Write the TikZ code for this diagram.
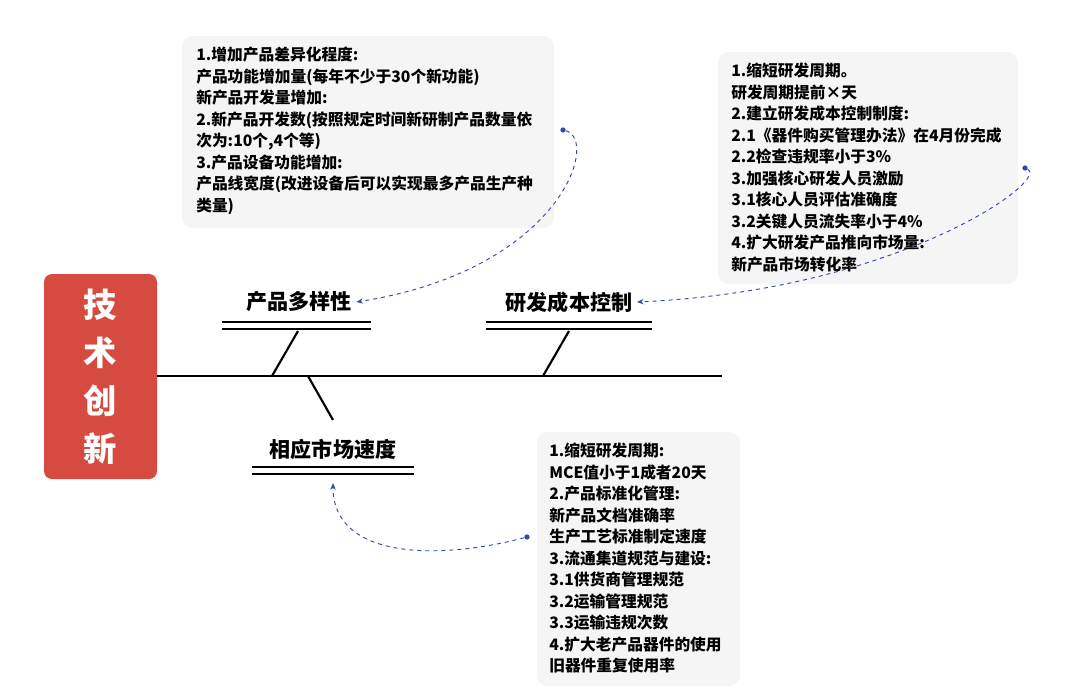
\documentclass[tikz,border=0pt]{standalone}
\usepackage{fontspec}
\setmainfont{Noto Sans CJK SC}
\usetikzlibrary{arrows.meta}
\definecolor{redbox}{HTML}{D64B3F}
\definecolor{boxgray}{HTML}{F5F5F5}
\definecolor{linkblue}{HTML}{3548B0}
\tikzset{
  note/.style={align=left,anchor=north west,
    font=\fontsize{11.8pt}{16.1pt}\selectfont\bfseries,inner sep=0pt},
  cat/.style={font=\fontsize{15.8pt}{18pt}\selectfont\bfseries},
  bone/.style={line width=1.6pt},
  link/.style={linkblue,dashed,line width=0.7pt,-{Stealth[length=5pt,width=4pt]}},
  dot/.style={circle,fill=linkblue,inner sep=1.4pt}
}
\begin{document}
\begin{tikzpicture}[x=0.75pt,y=-0.75pt]
\useasboundingbox (0,0) rectangle (1080,689);
% head
\node[fill=redbox,rounded corners=6pt,minimum width=113*0.75pt,minimum height=205*0.75pt,
  text=white,font=\fontsize{25pt}{36pt}\selectfont\bfseries,align=center] (head) at (100.5,376.5) {技\\术\\创\\新};
% spine
\coordinate (sp) at (157,376);
\coordinate (se) at (722,376);
\draw[bone] (sp) -- (se);
% categories
\node[cat] (c1) at (299,302) {产品多样性};
\node[cat] (c2) at (569,302) {研发成本控制};
\node[cat] (c3) at (333,449) {相应市场速度};
\draw[bone] (222,322) -- (371,322) (222,329) -- (371,329);
\draw[bone] (486,322) -- (652,322) (486,329) -- (652,329);
\draw[bone] (252,467) -- (414,467) (252,474) -- (414,474);
\draw[bone] (298,331) -- (272,376);
\draw[bone] (569,331) -- (543,376);
\draw[bone] (308,376) -- (333,420);
% notes
\fill[boxgray,rounded corners=8pt] (182,36) rectangle (554,228);
\node[note] (n1) at (196,47) {1.增加产品差异化程度:\\产品功能增加量(每年不少于30个新功能)\\新产品开发量增加:\\2.新产品开发数(按照规定时间新研制产品数量依\\次为:10个,4个等)\\3.产品设备功能增加:\\产品线宽度(改进设备后可以实现最多产品生产种\\类量)};
\fill[boxgray,rounded corners=8pt] (718,52) rectangle (1018,284);
\node[note] (n2) at (731,63) {1.缩短研发周期。\\研发周期提前×天\\2.建立研发成本控制制度:\\2.1《器件购买管理办法》在4月份完成\\2.2检查违规率小于3\%\\3.加强核心研发人员激励\\3.1核心人员评估准确度\\3.2关键人员流失率小于4\%\\4.扩大研发产品推向市场量:\\新产品市场转化率};
\fill[boxgray,rounded corners=8pt] (537,432) rectangle (740,686);
\node[note] (n3) at (549,443) {1.缩短研发周期:\\MCE值小于1成者20天\\2.产品标准化管理:\\新产品文档准确率\\生产工艺标准制定速度\\3.流通集道规范与建设:\\3.1供货商管理规范\\3.2运输管理规范\\3.3运输违规次数\\4.扩大老产品器件的使用\\旧器件重复使用率};
% links
\node[dot] (d1) at (563,130) {};
\node[dot] (d2) at (1025,168) {};
\node[dot] (d3) at (527,537) {};
\draw[link] (d1) .. controls (600,140) and (560,270) .. (c1.east);
\draw[link] (d2) .. controls (1050,180) and (900,290) .. (c2.east);
\draw[link] (d3) .. controls (440,560) and (333,560) .. (333,483);
\end{tikzpicture}
\end{document}
